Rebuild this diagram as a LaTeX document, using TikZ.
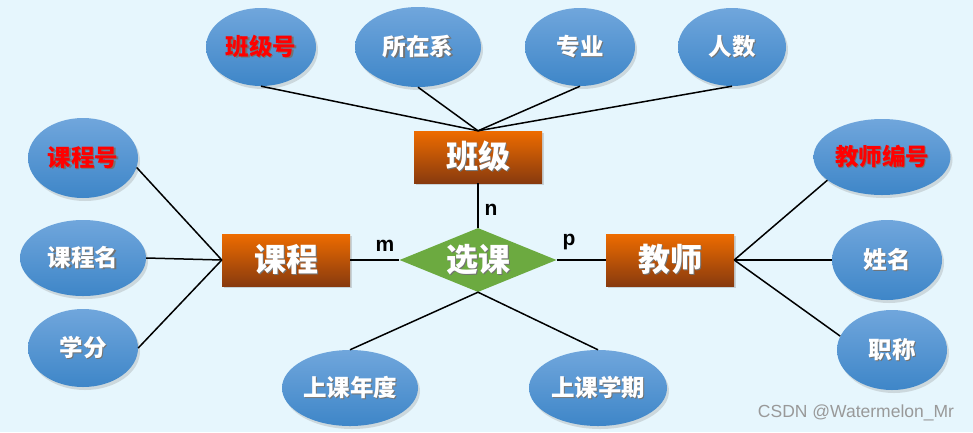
\documentclass[tikz,border=0pt]{standalone}
\usepackage{fontspec}
\usetikzlibrary{shapes.geometric,shadows}
\newfontfamily\cjk{Noto Sans CJK SC}
\newfontfamily\lsans{Liberation Sans}
\definecolor{bgc}{RGB}{230,246,253}
\definecolor{atop}{RGB}{112,166,220}
\definecolor{abot}{RGB}{62,134,200}
\definecolor{etop}{RGB}{238,108,0}
\definecolor{ebot}{RGB}{136,58,14}
\definecolor{rgreen}{RGB}{108,170,64}
\definecolor{keyred}{RGB}{255,0,0}
\newcommand\shtxt[2]{\makebox[0pt]{\rlap{\hspace{1.3pt}\raisebox{-1.3pt}{\textcolor{black!55}{#2}}}\textcolor{#1}{#2}}}
\tikzset{
  attr/.style={ellipse, inner sep=0pt, top color=atop, bottom color=abot, draw=none,
    drop shadow={shadow xshift=2pt, shadow yshift=-3pt, opacity=0.25},
    font=\cjk\bfseries\fontsize{23.5}{23.5}\selectfont},
  ent/.style={rectangle, inner sep=0pt, minimum width=128pt, minimum height=52pt,
    top color=etop, bottom color=ebot, draw=none,
    drop shadow={shadow xshift=2pt, shadow yshift=-2pt, opacity=0.3},
    font=\cjk\bfseries\fontsize{32}{32}\selectfont},
  rel/.style={diamond, inner sep=0pt, minimum width=157pt, minimum height=64pt,
    fill=rgreen, draw=none, font=\cjk\bfseries\fontsize{32}{32}\selectfont},
  conn/.style={draw=black, line width=1.5pt},
  card/.style={font=\lsans\bfseries\fontsize{21}{21}\selectfont, inner sep=0pt}
}
\begin{document}
\begin{tikzpicture}[x=1pt,y=-1pt]
\fill[bgc] (0,0) rectangle (973,432);
\useasboundingbox (0,0) rectangle (973,432);

% entities and relation
\node[ent] (bj) at (478,157) {\shtxt{white}{班级}};
\node[ent] (kc) at (286,260) {\shtxt{white}{课程}};
\node[ent] (js) at (670,260) {\shtxt{white}{教师}};
\node[rel] (xk) at (478,260) {\shtxt{white}{选课}};

% attributes
\node[attr, minimum width=110pt, minimum height=78pt] (bjh) at (261,47) {\shtxt{keyred}{班级号}};
\node[attr, minimum width=126pt, minimum height=80pt] (szx) at (418,47) {\shtxt{white}{所在系}};
\node[attr, minimum width=110pt, minimum height=78pt] (zy) at (580,47) {\shtxt{white}{专业}};
\node[attr, minimum width=108pt, minimum height=78pt] (rs) at (732,47) {\shtxt{white}{人数}};

\node[attr, minimum width=110pt, minimum height=80pt] (kch) at (83,158) {\shtxt{keyred}{课程号}};
\node[attr, minimum width=126pt, minimum height=76pt] (kcm) at (83,258) {\shtxt{white}{课程名}};
\node[attr, minimum width=110pt, minimum height=78pt] (xf) at (83,348) {\shtxt{white}{学分}};

\node[attr, minimum width=137pt, minimum height=76pt] (jsbh) at (882,157) {\shtxt{keyred}{教师编号}};
\node[attr, minimum width=110pt, minimum height=80pt] (xm) at (887,260) {\shtxt{white}{姓名}};
\node[attr, minimum width=110pt, minimum height=80pt] (zc) at (892,350) {\shtxt{white}{职称}};

\node[attr, minimum width=136pt, minimum height=76pt] (sknd) at (350,388) {\shtxt{white}{上课年度}};
\node[attr, minimum width=138pt, minimum height=76pt] (skxq) at (598,388) {\shtxt{white}{上课学期}};

% connectors
\draw[conn] (bjh.south) -- (bj.north);
\draw[conn] (szx.south) -- (bj.north);
\draw[conn] (zy.south) -- (bj.north);
\draw[conn] (rs.south) -- (bj.north);

\draw[conn] (kch.350) -- (kc.west);
\draw[conn] (kcm.east) -- (kc.west);
\draw[conn] (xf.east) -- (kc.west);

\draw[conn] (jsbh.203) -- (js.east);
\draw[conn] (xm.west) -- (js.east);
\draw[conn] (zc.165) -- (js.east);

\draw[conn] (sknd.north) -- (xk.south);
\draw[conn] (skxq.north) -- (xk.south);

\draw[conn] (bj.south) -- (xk.north);
\draw[conn] (kc.east) -- (xk.west);
\draw[conn] (xk.east) -- (js.west);

% cardinalities
\node[card] (lm) at (385,246) {m};
\node[card] (ln) at (491,210) {n};
\node[card] (lp) at (569,242) {p};

% watermark
\node[font=\lsans\fontsize{17.5}{17.5}\selectfont, text=black!40, inner sep=0pt] (wm) at (856,413) {CSDN @Watermelon\_Mr};
\end{tikzpicture}
\end{document}
